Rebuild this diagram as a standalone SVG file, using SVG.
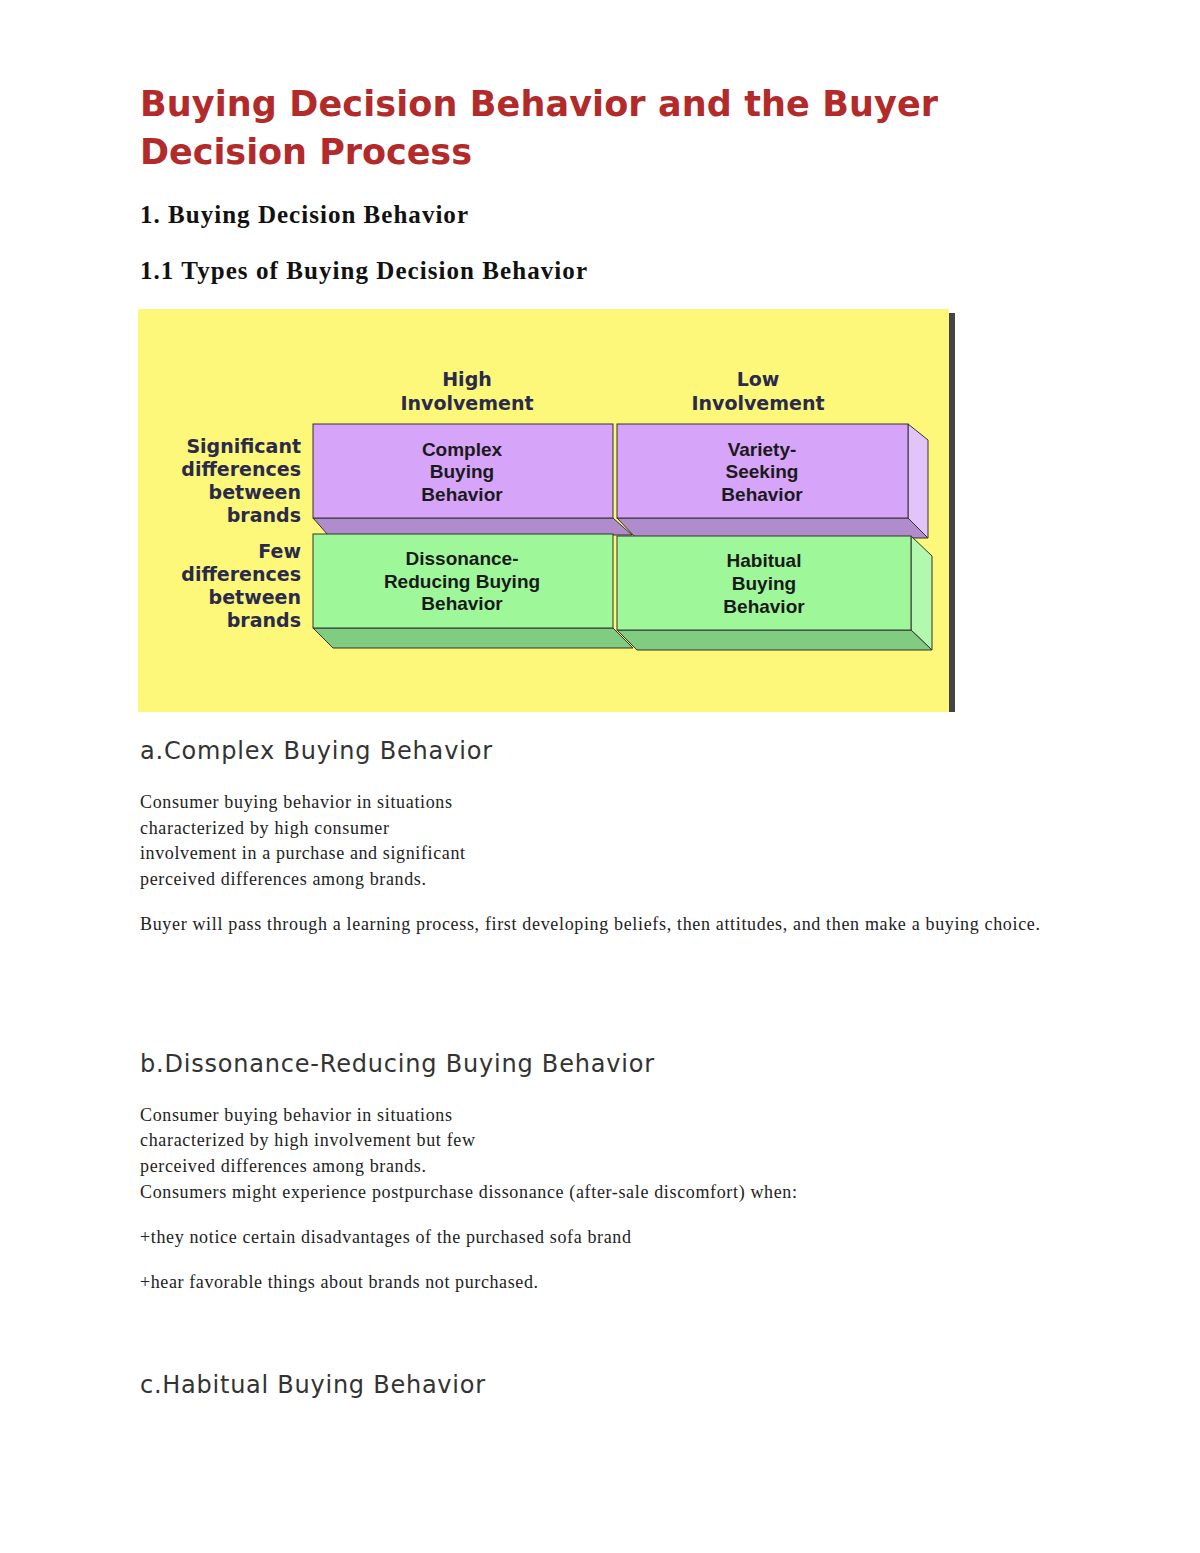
<svg xmlns="http://www.w3.org/2000/svg" width="1200" height="1553" viewBox="0 0 1200 1553">
<style>
.t{font-family:"DejaVu Sans",sans-serif;font-weight:bold;font-size:35px;fill:#b22a2a}
.h{font-family:"Liberation Serif",serif;font-weight:bold;font-size:25px;fill:#111}
.s{font-family:"DejaVu Sans",sans-serif;font-size:24px;fill:#333}
.b{font-family:"Liberation Serif",serif;font-size:18px;fill:#222}
.c{font-family:"Liberation Sans",Arial,sans-serif;font-weight:bold;font-size:19px;fill:#1a1a1a;text-anchor:middle}
.l{font-family:"DejaVu Sans",sans-serif;font-weight:bold;font-size:19px;fill:#2a2a4a;text-anchor:end}
.hd{font-family:"DejaVu Sans",sans-serif;font-weight:bold;font-size:19px;fill:#2a2a4a;text-anchor:middle}
.p{fill:#d6a4f9;stroke:#333;stroke-width:1}
.pd{fill:#b08ccc;stroke:#333;stroke-width:1}
.ps{fill:#e2c4fb;stroke:#333;stroke-width:1}
.g{fill:#9ef89a;stroke:#333;stroke-width:1}
.gd{fill:#80cc80;stroke:#333;stroke-width:1}
.gs{fill:#b2f8ae;stroke:#333;stroke-width:1}
</style>
<rect width="1200" height="1553" fill="#fff"/>
<text class="t" x="140" y="116" textLength="798">Buying Decision Behavior and the Buyer</text>
<text class="t" x="140" y="164" textLength="332">Decision Process</text>
<text class="h" x="140" y="223" textLength="328">1. Buying Decision Behavior</text>
<text class="h" x="140" y="279" textLength="447">1.1 Types of Buying Decision Behavior</text>
<rect x="948" y="313" width="7" height="399" fill="#444"/>
<rect x="138" y="309" width="811" height="403" fill="#fdf77a"/>
<text class="hd" x="467" y="386">High</text>
<text class="hd" x="467" y="410">Involvement</text>
<text class="hd" x="758" y="386">Low</text>
<text class="hd" x="758" y="410">Involvement</text>
<text class="l" x="301" y="453">Significant</text>
<text class="l" x="301" y="476">differences</text>
<text class="l" x="301" y="499">between</text>
<text class="l" x="301" y="522">brands</text>
<text class="l" x="301" y="558">Few</text>
<text class="l" x="301" y="581">differences</text>
<text class="l" x="301" y="604">between</text>
<text class="l" x="301" y="627">brands</text>
<g id="complex">
<polygon class="pd" points="313,518 613,518 632,535 328,535"/>
<rect class="p" x="313" y="424" width="300" height="94"/>
<text class="c" x="462" y="456">Complex</text><text class="c" x="462" y="478">Buying</text><text class="c" x="462" y="501">Behavior</text>
</g>
<g id="variety">
<polygon class="ps" points="908,424 928,440 928,538 908,518"/>
<polygon class="pd" points="617,518 908,518 928,538 636,538"/>
<rect class="p" x="617" y="424" width="291" height="94"/>
<text class="c" x="762" y="456">Variety-</text><text class="c" x="762" y="478">Seeking</text><text class="c" x="762" y="501">Behavior</text>
</g>
<g id="dissonance">
<polygon class="gd" points="313,628 613,628 633,648 333,648"/>
<rect class="g" x="313" y="534" width="300" height="94"/>
<text class="c" x="462" y="565">Dissonance-</text><text class="c" x="462" y="588">Reducing Buying</text><text class="c" x="462" y="610">Behavior</text>
</g>
<g id="habitual">
<polygon class="gs" points="911,536 932,556 932,650 911,630"/>
<polygon class="gd" points="617,630 911,630 932,650 637,650"/>
<rect class="g" x="617" y="536" width="294" height="94"/>
<text class="c" x="764" y="567">Habitual</text><text class="c" x="764" y="590">Buying</text><text class="c" x="764" y="613">Behavior</text>
</g>
<g id="connectors"/>
<text class="s" x="140" y="759" textLength="352">a.Complex Buying Behavior</text>
<text class="b" x="140" y="808" textLength="312">Consumer buying behavior in situations</text>
<text class="b" x="140" y="834" textLength="249">characterized by high consumer</text>
<text class="b" x="140" y="859" textLength="325">involvement in a purchase and significant</text>
<text class="b" x="140" y="885" textLength="286">perceived differences among brands.</text>
<text class="b" x="140" y="930" textLength="900">Buyer will pass through a learning process,  first developing beliefs, then attitudes, and then make a buying choice.</text>
<text class="s" x="140" y="1072" textLength="514">b.Dissonance-Reducing Buying Behavior</text>
<text class="b" x="140" y="1121" textLength="312">Consumer buying behavior in situations</text>
<text class="b" x="140" y="1146" textLength="335">characterized by high involvement but few</text>
<text class="b" x="140" y="1172" textLength="286">perceived differences among brands.</text>
<text class="b" x="140" y="1198" textLength="657">Consumers might experience postpurchase dissonance (after-sale discomfort) when:</text>
<text class="b" x="140" y="1243" textLength="491">+they notice certain disadvantages of the purchased sofa brand</text>
<text class="b" x="140" y="1288" textLength="398">+hear favorable things about brands not purchased.</text>
<text class="s" x="140" y="1393" textLength="345">c.Habitual Buying Behavior</text>
</svg>
